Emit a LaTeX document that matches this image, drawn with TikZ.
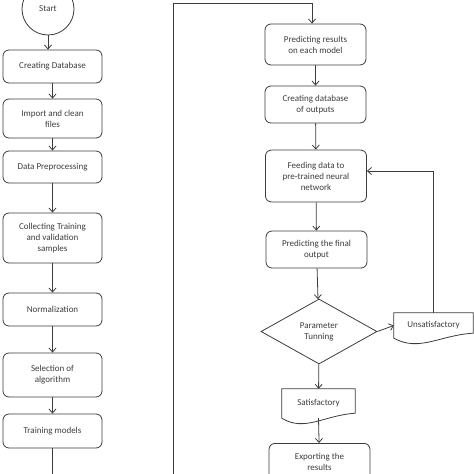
\documentclass[tikz,border=0pt]{standalone}
\usepackage{fontspec}
\setmainfont{Carlito}
\usetikzlibrary{shapes.geometric,calc,arrows.meta}

\definecolor{ln}{HTML}{3C3C3C}
\tikzset{
  box/.style={draw=ln, rounded corners=6pt, line width=0.8pt, minimum width=99pt, align=center, inner sep=2pt},
  docbox/.style={align=center, inner sep=2pt},
  arr/.style={draw=ln, line width=0.8pt, -{Straight Barb[length=4pt,width=7pt]}},
  flow/.style={draw=ln, line width=0.8pt}
}
% outline of a document shape round a node
\newcommand{\docline}[1]{\draw[flow] (#1.south west) -- (#1.north west) -- (#1.north east) -- ($(#1.south east)+(0,-5)$) .. controls ($(#1.south)+(6,-3)$) and ($(#1.south)+(-14,14)$) .. (#1.south west) -- cycle;}

\begin{document}
\begin{tikzpicture}[x=1pt,y=-1pt,font=\fontsize{9}{11}\selectfont,every node/.append style={text=ln}]
\useasboundingbox (0,0) rectangle (474,474);
\clip (0,0) rectangle (474,474);
% left column
\node[draw=ln, circle, line width=0.8pt, minimum size=52pt] (start) at (48,9) {Start};
\node[box, minimum height=33pt] (db) at (52.5,66.5) {Creating Database};
\node[box, minimum height=39pt] (imp) at (52.5,118.5) {Import and clean\\files};
\node[box, minimum height=32pt] (pre) at (52.5,167) {Data Preprocessing};
\node[box, minimum height=50pt] (col) at (52.5,238) {Collecting Training\\and validation\\samples};
\node[box, minimum height=33pt] (norm) at (52.5,309.5) {Normalization};
\node[box, minimum height=44pt] (sel) at (52.5,375) {Selection of\\algorithm};
\node[box, minimum height=34pt] (train) at (52.5,431) {Training models};
\coordinate (tend) at (51,480);
\path[arr] (start) -- (start |- db.north);
\path[arr] (db) -- (imp);
\path[arr] (imp) -- (pre);
\path[arr] (pre) -- (col);
\path[arr] (col) -- (norm);
\path[arr] (norm) -- (sel);
\path[arr] (sel) -- (train);
\path[flow] (train) -- (train |- tend);
% right column
\node[box, minimum width=101pt, minimum height=41pt] (pred) at (315.5,44.5) {Predicting results\\on each model};
\node[box, minimum width=101pt, minimum height=37pt] (cdo) at (315.5,104.5) {Creating database\\of outputs};
\node[box, minimum width=101pt, minimum height=52pt] (feed) at (316,176) {Feeding data to\\pre-trained neural\\network};
\node[box, minimum width=101pt, minimum height=37pt] (fin) at (316.5,249.5) {Predicting the final\\output};
\node[draw=ln, diamond, line width=0.8pt, inner sep=0pt, minimum width=116pt, minimum height=65pt, align=center] (par) at (319,331.5) {Parameter\\Tunning};
\node[docbox, minimum width=79pt, minimum height=25pt] (unsat) at (433.5,325.5) {Unsatisfactory};
\docline{unsat}
\node[docbox, minimum width=73pt, minimum height=29pt] (sat) at (318.5,403.5) {Satisfactory};
\docline{sat}
\node[box, minimum width=101pt, minimum height=37pt, anchor=north] (exp) at (319.5,443) {Exporting the\\results};
\coordinate (lb) at (173,480);
\coordinate (lt) at (312,3);
\path[arr] (lb) |- (lt) -- (lt |- pred.north);
\path[arr] (pred) -- (cdo);
\path[arr] (cdo) -- (feed);
\path[arr] (feed) -- (fin);
\path[arr] (fin) -- (par);
\path[arr] (par) -- (sat);
\path[arr] (sat.south) -- (exp);
\path[arr] (par.east) -- (unsat.west);
\path[arr] (unsat.north) |- ($(feed.east)+(0,-5)$);
\end{tikzpicture}
\end{document}
